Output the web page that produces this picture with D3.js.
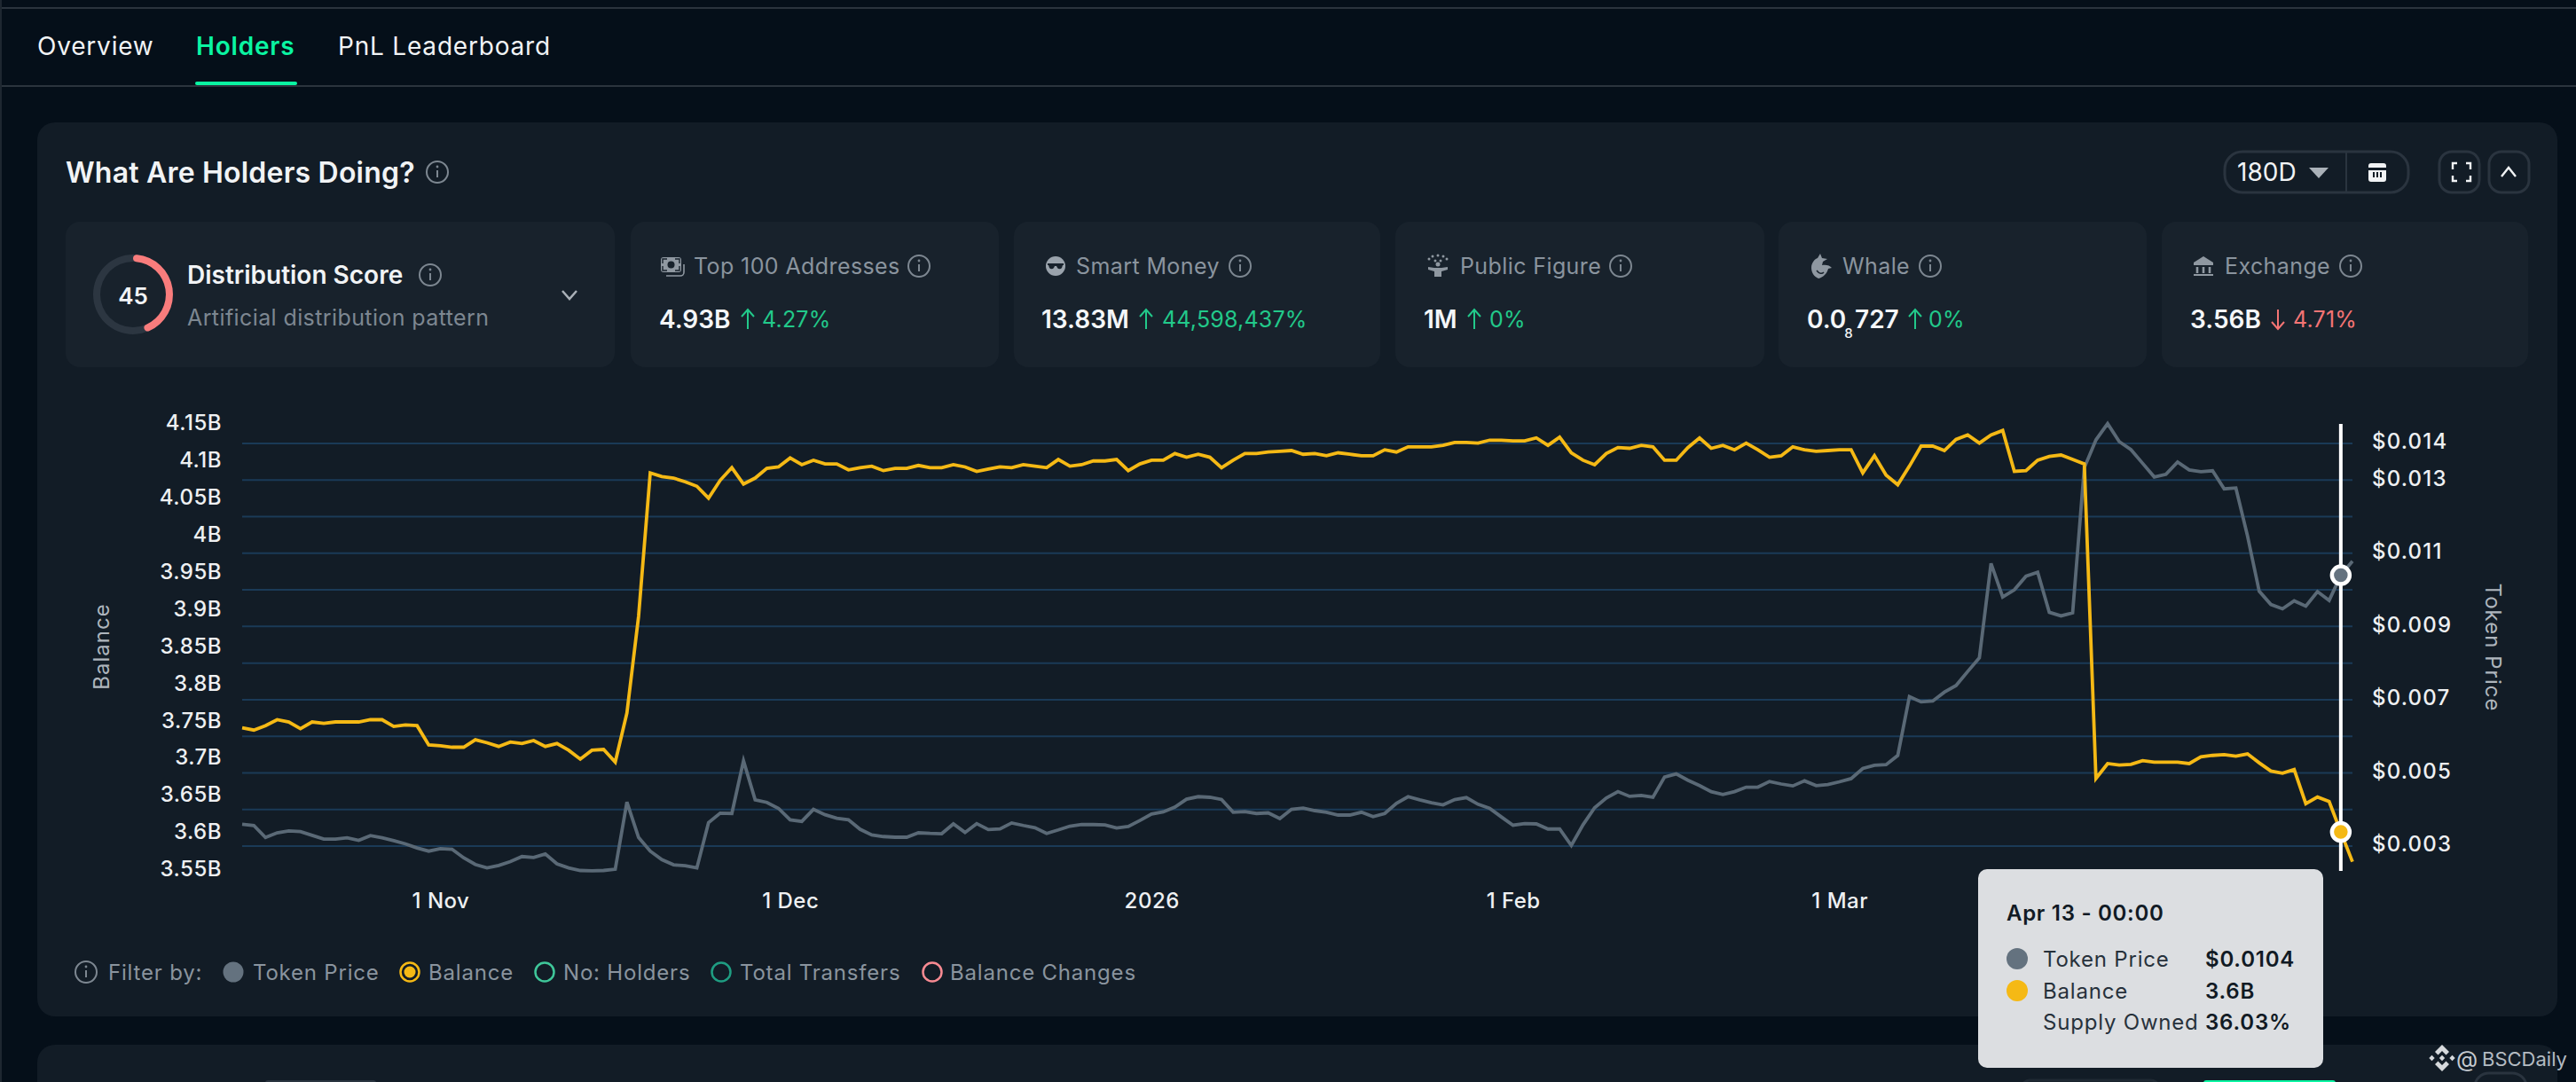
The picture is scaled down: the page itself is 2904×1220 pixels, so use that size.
<!DOCTYPE html>
<html><head><meta charset="utf-8">
<script src="https://cdn.jsdelivr.net/npm/d3@7/dist/d3.min.js"></script>
<style>
html,body{margin:0;padding:0;background:#050f19;overflow:hidden}
svg{display:block}
text{font-family:Inter,"Noto Sans",sans-serif}
</style></head><body>
<svg id="c" width="2904" height="1220"></svg>
<script>
const balanceBillions=[
3.740,3.737,3.743,3.751,3.748,3.739,3.748,3.746,3.748,3.748,
3.748,3.751,3.751,3.742,3.744,3.743,3.717,3.716,3.714,3.714,
3.724,3.720,3.715,3.721,3.719,3.723,3.715,3.719,3.710,3.698,
3.710,3.711,3.694,3.760,3.890,4.083,4.078,4.076,4.071,4.065,
4.049,4.073,4.090,4.068,4.076,4.089,4.091,4.103,4.094,4.100,
4.095,4.095,4.087,4.090,4.092,4.086,4.089,4.089,4.093,4.090,
4.090,4.094,4.091,4.085,4.088,4.091,4.090,4.094,4.092,4.090,
4.101,4.092,4.094,4.099,4.099,4.101,4.086,4.095,4.100,4.100,
4.109,4.104,4.108,4.104,4.090,4.100,4.109,4.109,4.111,4.112,
4.113,4.108,4.109,4.106,4.110,4.108,4.106,4.106,4.114,4.111,
4.118,4.118,4.118,4.120,4.124,4.124,4.123,4.127,4.127,4.126,
4.126,4.130,4.120,4.131,4.110,4.100,4.094,4.109,4.117,4.116,
4.120,4.118,4.100,4.100,4.117,4.130,4.116,4.120,4.114,4.123,
4.114,4.104,4.106,4.118,4.114,4.112,4.113,4.114,4.114,4.083,
4.106,4.080,4.067,4.092,4.119,4.119,4.113,4.128,4.134,4.123,
4.134,4.140,4.085,4.086,4.100,4.105,4.107,4.101,4.095,3.672,
3.692,3.690,3.691,3.696,3.694,3.694,3.694,3.692,3.701,3.703,
3.704,3.702,3.705,3.693,3.682,3.679,3.684,3.638,3.647,3.641,
3.600,3.560];
const tokenPriceMilli=[
3.597,3.563,3.234,3.363,3.415,3.398,3.294,3.190,3.190,3.225,
3.156,3.286,3.225,3.147,3.061,2.948,2.862,2.931,2.913,2.680,
2.498,2.403,2.472,2.576,2.714,2.688,2.784,2.515,2.403,2.334,
2.325,2.334,2.368,4.203,3.234,2.862,2.628,2.489,2.463,2.403,
3.640,3.900,3.891,5.328,4.263,4.194,4.030,3.718,3.675,4.004,
3.857,3.762,3.718,3.459,3.303,3.260,3.242,3.242,3.363,3.346,
3.338,3.606,3.372,3.614,3.450,3.467,3.632,3.563,3.502,3.346,
3.441,3.545,3.588,3.588,3.580,3.493,3.537,3.701,3.874,3.935,
4.064,4.281,4.350,4.333,4.272,3.926,3.943,3.891,3.909,3.753,
4.004,4.038,3.969,3.926,3.848,3.848,3.926,3.805,3.891,4.168,
4.350,4.263,4.186,4.125,4.272,4.324,4.142,4.030,3.796,3.571,
3.614,3.606,3.467,3.467,3.017,3.580,4.047,4.315,4.488,4.359,
4.385,4.333,4.887,4.973,4.800,4.653,4.488,4.411,4.488,4.610,
4.610,4.765,4.696,4.644,4.783,4.653,4.679,4.757,4.843,5.120,
5.207,5.224,5.475,7.084,6.940,6.964,7.205,7.386,7.771,8.145,
10.723,9.807,10.000,10.373,10.482,9.386,9.289,9.373,13.337,14.096,
14.542,14.048,13.831,13.458,13.084,13.157,13.494,13.277,13.229,13.253,
12.759,12.783,11.470,9.964,9.602,9.482,9.699,9.554,9.952,9.711,
10.400,10.783];
const balanceTicks=[3.55,3.6,3.65,3.7,3.75,3.8,3.85,3.9,3.95,4,4.05,4.1,4.15];
const priceGrid=[3,4,5,6,7,8,9,10,11,12,13,14];
const priceLabels=[3,5,7,9,11,13,14];
const xTickLabels=[[Date.UTC(2025,10,1),"1 Nov"],[Date.UTC(2025,11,1),"1 Dec"],[Date.UTC(2026,0,1),"2026"],[Date.UTC(2026,1,1),"1 Feb"],[Date.UTC(2026,2,1),"1 Mar"]];
const tabs=[["Overview",42,"#f1f3f5",400],["Holders",221,"#0af5a2",600],["PnL Leaderboard",381,"#f1f3f5",400]];
const metrics=[
 {name:"Top 100 Addresses",x0:711,x1:1126,ix:757,tx:782,info:1036,val:"4.93B",vx:743,ax:843,px:859,pct:"4.27%",up:true},
 {name:"Smart Money",x0:1143,x1:1556,ix:1190,tx:1213,info:1398,val:"13.83M",vx:1174,ax:1292,px:1310,pct:"44,598,437%",up:true},
 {name:"Public Figure",x0:1573,x1:1989,ix:1621,tx:1646,info:1827,val:"1M",vx:1605,ax:1662,px:1679,pct:"0%",up:true},
 {name:"Whale",x0:2005,x1:2420,ix:2053,tx:2077,info:2176,val:"0.0",vx:2037,ax:2159,px:2174,pct:"0%",up:true},
 {name:"Exchange",x0:2437,x1:2850,ix:2484,tx:2508,info:2650,val:"3.56B",vx:2469,ax:2568,px:2585,pct:"4.71%",up:false}];
const legendItems=[["Token Price",263,285,"solid","#64727f"],["Balance",462,483,"active","#f5b915"],["No: Holders",614,635,"ring","#3fc79a"],["Total Transfers",813,834,"ring","#1f9d82"],["Balance Changes",1051,1071,"ring","#f78a92"]];
const tooltipRows=[["Token Price","$0.0104","#64727f"],["Balance","3.6B","#f5b915"],["Supply Owned","36.03%",null]];

const svg=d3.select("#c");
const T=(s,x,y,size,fill,weight=400,anchor="start",ls=0)=>svg.append("text").text(s).attr("x",x).attr("y",y)
 .attr("font-size",size).attr("fill",fill).attr("font-weight",weight).attr("text-anchor",anchor)
 .attr("dominant-baseline","central").attr("letter-spacing",ls);
const R=(x,y,w,h,r,fill,stroke)=>svg.append("rect").attr("x",x).attr("y",y).attr("width",w).attr("height",h).attr("rx",r)
 .attr("fill",fill).attr("stroke",stroke||"none").attr("stroke-width",stroke?3:0);
const info=(x,y)=>{svg.append("circle").attr("cx",x).attr("cy",y).attr("r",12).attr("fill","none").attr("stroke","#7d8791").attr("stroke-width",2);
 svg.append("line").attr("x1",x).attr("x2",x).attr("y1",y-2).attr("y2",y+6).attr("stroke","#7d8791").attr("stroke-width",2);
 svg.append("circle").attr("cx",x).attr("cy",y-6).attr("r",1.4).attr("fill","#7d8791");};

// page chrome
R(0,8,2904,2,0,"#2b343d");R(0,96,2904,2,0,"#2b343d");R(0,0,2,1220,0,"#1e2730");
tabs.forEach(t=>T(t[0],t[1],52,28,t[2],t[3],"start",0.8));
R(220,92,115,4,2,"#0af5a2");
R(42,138,2841,1008,20,"#121c26");
R(42,1178,2841,80,20,"#121c26");
T("What Are Holders Doing?",74,194,32,"#f1f3f5",600,"start",0.2);
info(493,194);
// range controls
R(2508,171,207,46,20,"none","#2a343f");
svg.append("line").attr("x1",2645).attr("x2",2645).attr("y1",171).attr("y2",217).attr("stroke","#2a343f").attr("stroke-width",2);
T("180D",2522,194,28,"#f1f3f5",400);
svg.append("path").attr("d","M2603 189h22l-11 12z").attr("fill","#aab1b8");
R(2670,184,20,21,3,"#f1f3f5");R(2670,189,20,3,0,"#121c26");
R(2675,194,2,6,0,"#121c26");R(2679,194,2,6,0,"#121c26");R(2683,194,2,6,0,"#121c26");
R(2750,171,45,46,14,"none","#2a343f");R(2806,171,45,46,14,"none","#2a343f");
svg.append("path").attr("d","M2765 191v-7h5M2780 184h5v7M2785 198v6h-5M2770 204h-5v-6").attr("fill","none").attr("stroke","#f1f3f5").attr("stroke-width",2.400);
svg.append("path").attr("d","M2820 199l8-10 8 10").attr("fill","none").attr("stroke","#f1f3f5").attr("stroke-width",2.400);

// summary cards
R(74,250,619,164,16,"#18222c");
const gauge=d3.arc().innerRadius(37).outerRadius(45);
const gg=svg.append("g").attr("transform","translate(150,332)");
gg.append("path").attr("d",gauge({startAngle:0,endAngle:2*Math.PI})).attr("fill","#2c3641");
gg.append("path").attr("d",d3.arc().innerRadius(37).outerRadius(45).cornerRadius(4)({startAngle:0,endAngle:0.45*2*Math.PI})).attr("fill","#f97c7c");
T("45",150,333,26,"#f1f3f5",600,"middle");
T("Distribution Score",211,310,28,"#f1f3f5",600);
info(485,310);
T("Artificial distribution pattern",211,358,25,"#7d8791",400,"start",0.4);
svg.append("path").attr("d","M634 328l8 9 8-9").attr("fill","none").attr("stroke","#aab1b8").attr("stroke-width",2.500);

const iconCol="#8f98a1", cardCol="#18222c";
const icons={
 "Top 100 Addresses":g=>{
  g.append("path").attr("d","M-6 11h16a4 4 0 0 0 4-4v-9").attr("fill","none").attr("stroke",iconCol).attr("stroke-width",1.6);
  g.append("rect").attr("x",-12).attr("y",-10).attr("width",23).attr("height",17).attr("rx",3).attr("fill",iconCol);
  g.append("circle").attr("cx",-0.5).attr("cy",-1.5).attr("r",4).attr("fill",cardCol);
  g.append("path").attr("d","M-10-3v-5h5M9-3v-5h-5M-10 0v5h5M9 0v5h-5").attr("fill","none").attr("stroke",cardCol).attr("stroke-width",1.4);},
 "Smart Money":g=>{
  g.append("circle").attr("r",11).attr("fill","#9aa3ac");
  g.append("path").attr("d","M-9-3h18v2h-1l-1 3a3 3 0 0 1-5 0l-1-2h-2l-1 2a3 3 0 0 1-5 0l-1-3h-1z").attr("fill",cardCol);},
 "Public Figure":g=>{
  [[-10,-8],[-6,-11],[0,-12],[6,-11],[10,-8],[-3,-6],[3,-6]].forEach(p=>g.append("circle").attr("cx",p[0]).attr("cy",p[1]).attr("r",1.500).attr("fill",iconCol));
  g.append("circle").attr("cx",0).attr("cy",-2).attr("r",2.500).attr("fill",iconCol);
  g.append("path").attr("d","M-11 1l7 1h8l7-1v3l-7 2v6h-8v-6l-7-2z").attr("fill",iconCol);},
 "Whale":g=>{
  g.append("path").attr("d","M-1-14L1-9L7-8L2-5L1-1C5-2 10-1 12 2L8 3C7 8 2 13-3 14C-8 12-11 7-11 2C-11-4-7-8-4-9Z").attr("fill",iconCol);
  g.append("path").attr("d","M-5 5C-2 9 1 9 3 7").attr("fill","none").attr("stroke",cardCol).attr("stroke-width",1.5);},
 "Exchange":g=>{
  g.append("path").attr("d","M0-11l11 7v3h-22v-3z").attr("fill",iconCol);
  [-7,0,7].forEach(c=>g.append("rect").attr("x",c-1.300).attr("y",1).attr("width",2.600).attr("height",7).attr("fill",iconCol));
  g.append("rect").attr("x",-11).attr("y",9).attr("width",22).attr("height",2).attr("fill",iconCol);}
};
metrics.forEach(m=>{
 R(m.x0,250,m.x1-m.x0,164,16,"#18222c");
 const g=svg.append("g").attr("transform",`translate(${m.ix},300)`);
 icons[m.name](g);
 T(m.name,m.tx,300,25,"#8a949e",400,"start",0.4);
 info(m.info,300);
 T(m.val,m.vx,360,28,"#f4f6f8",600);
 const col=m.up?"#22c98a":"#f47474";
 const d=m.up?1:-1;
 svg.append("path").attr("d",`M${m.ax} ${360+d*11}V${360-d*11}m-7 ${d*8}l7 ${-d*8}l7 ${d*8}`).attr("fill","none").attr("stroke",col).attr("stroke-width",2);
 T(m.pct,m.px,360,25,col,400,"start",0.2);
});
T("8",2084,375,15,"#f4f6f8",500,"middle");
T("727",2091,360,28,"#f4f6f8",600);

// chart
const dayMs=864e5, t0=Date.UTC(2025,9,15);
const dates=balanceBillions.map((_,i)=>new Date(t0+i*dayMs));
const x=d3.scaleUtc().domain([dates[0],dates[dates.length-1]]).range([273,2652]);
const yBal=d3.scaleLinear().domain([3.55,4.15]).range([980,477]);
const yPrice=d3.scaleLinear().domain([3,14]).range([954,500]);

svg.append("g").selectAll("line").data(priceGrid).join("line")
 .attr("x1",273).attr("x2",2652).attr("y1",d=>yPrice(d)).attr("y2",d=>yPrice(d))
 .attr("stroke","#1a3a57").attr("stroke-width",2);

const styleAxis=(g,size,fill)=>{g.select(".domain").remove();g.selectAll(".tick line").remove();
 g.selectAll("text").attr("font-size",size).attr("fill",fill).attr("font-family","Inter").attr("font-weight",500).attr("letter-spacing",0.5);};
svg.append("g").attr("transform","translate(250,0)")
 .call(d3.axisLeft(yBal).tickValues(balanceTicks).tickSize(0).tickPadding(0).tickFormat(d=>d3.format(".3~f")(d)+"B"))
 .call(g=>styleAxis(g,24,"#eef0f2"));
svg.append("g").attr("transform","translate(2674,0)")
 .call(d3.axisRight(yPrice).tickValues(priceLabels).tickSize(0).tickPadding(0).tickFormat(d=>"$"+d3.format(".3f")(d/1000)))
 .call(g=>styleAxis(g,24,"#eef0f2")).call(g=>g.selectAll("text").attr("dy","0.24em").attr("letter-spacing",1.2));
svg.append("g").attr("transform","translate(0,1016)")
 .call(d3.axisBottom(x).tickValues(xTickLabels.map(d=>new Date(d[0]))).tickSize(0).tickPadding(0)
   .tickFormat((d,i)=>xTickLabels[i][1]))
 .call(g=>styleAxis(g,24,"#eef0f2")).call(g=>g.selectAll("text").attr("dy","0.32em"));

T("Balance",0,0,24,"#aeb5bd",400,"middle",1).attr("transform","translate(114,729) rotate(-90)");
T("Token Price",0,0,24,"#aeb5bd",400,"middle",1).attr("transform","translate(2810,730) rotate(90)");

const linePrice=d3.line().x((d,i)=>x(dates[i])).y(d=>yPrice(d)).curve(d3.curveLinear);
const lineBal=d3.line().x((d,i)=>x(dates[i])).y(d=>yBal(d)).curve(d3.curveLinear);
svg.append("path").attr("d",linePrice(tokenPriceMilli)).attr("fill","none").attr("stroke","#5a6976").attr("stroke-width",3.800).attr("stroke-linejoin","miter");
svg.append("path").attr("d",lineBal(balanceBillions)).attr("fill","none").attr("stroke","#f5b915").attr("stroke-width",3.800).attr("stroke-linejoin","miter");

// crosshair and markers at Apr 13
const hi=180, hx=x(dates[hi]);
svg.append("line").attr("x1",hx).attr("x2",hx).attr("y1",478).attr("y2",982).attr("stroke","#fff").attr("stroke-width",4);
[[yPrice(tokenPriceMilli[hi]),"#64727f"],[yBal(balanceBillions[hi]),"#f5b915"]].forEach(m=>
 svg.append("circle").attr("cx",hx).attr("cy",m[0]).attr("r",10).attr("fill",m[1]).attr("stroke","#fff").attr("stroke-width",4.500));

// tooltip
R(2230,980,389,224,10,"#dcdee1");
T("Apr 13 - 00:00",2262,1029,24,"#111a24",600,"start",0.7);
tooltipRows.forEach((r,i)=>{const y=[1081,1117,1152][i];
 if(r[2])svg.append("circle").attr("cx",2274).attr("cy",y).attr("r",12).attr("fill",r[2]);
 T(r[0],2303,y,24,"#27313b",400,"start",0.8);
 T(r[1],2486,y,24,"#111a24",600,"start",0.8);
});

// legend
info(97,1096);
T("Filter by:",122,1096,24,"#8a949e",400,"start",0.8);
legendItems.forEach(l=>{
 if(l[3]==="solid")svg.append("circle").attr("cx",l[1]).attr("cy",1096).attr("r",11.500).attr("fill",l[4]);
 else{svg.append("circle").attr("cx",l[1]).attr("cy",1096).attr("r",10.500).attr("fill","none").attr("stroke",l[4]).attr("stroke-width",2.500);
  if(l[3]==="active")svg.append("circle").attr("cx",l[1]).attr("cy",1096).attr("r",6.500).attr("fill",l[4]);}
 T(l[0],l[2],1096,24,"#8a949e",400,"start",0.8);
});

// bottom edge and watermark
R(2484,1218,149,6,3,"#0af5a2");
R(299,1218,125,6,3,"#2a343f");
R(2280,1218,153,20,8,"none","#1f2933");
R(2790,1210,58,30,16,"none","#2a343f");
const wm=svg.append("g").attr("transform","translate(2753,1193)").attr("fill","#d6d9dc");
wm.append("path").attr("d","M0-15L8-7L4.500-3.500L0-8L-4.500-3.500L-8-7Z");
wm.append("path").attr("d","M0 15L8 7L4.500 3.500L0 8L-4.500 3.500L-8 7Z");
wm.append("path").attr("d","M0-3.200L3.200 0L0 3.200L-3.200 0Z");
wm.append("path").attr("d","M-11.500-3.200L-8.300 0L-11.500 3.200L-14.700 0Z");
wm.append("path").attr("d","M11.500-3.200L14.700 0L11.500 3.200L8.300 0Z");
T("@",2781,1194,25,"#c5cad0",400,"middle").attr("font-family","Noto Sans");
T("BSCDaily",2798,1194,22,"#b4bbc2",400,"start",0).attr("font-family","Noto Sans");
</script>
</body></html>
